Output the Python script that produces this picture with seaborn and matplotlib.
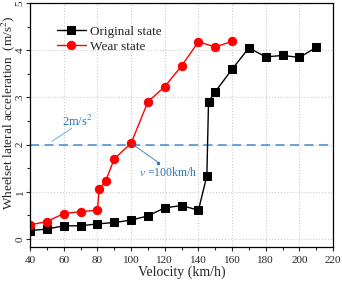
import numpy as np
import matplotlib
matplotlib.use("Agg")
import matplotlib.pyplot as plt
import seaborn as sns
import pandas as pd
from matplotlib.ticker import MultipleLocator

sns.set_style("ticks")
plt.rcParams['font.family'] = ['Liberation Serif', 'DejaVu Serif']
plt.rcParams['mathtext.fontset'] = 'stix'

# data
v_orig = [40, 50, 60, 70, 80, 90, 100, 110, 120, 130, 140, 145, 146, 150, 160, 170, 180, 190, 200, 210]
a_orig = [0.18, 0.21, 0.28, 0.28, 0.32, 0.35, 0.40, 0.49, 0.66, 0.71, 0.61, 1.34, 2.91, 3.12, 3.60,
          4.05, 3.86, 3.89, 3.85, 4.06]
v_wear = [40, 50, 60, 70, 80, 81, 85, 90, 100, 110, 120, 130, 140, 150, 160]
a_wear = [0.30, 0.37, 0.54, 0.58, 0.61, 1.05, 1.24, 1.70, 2.03, 2.91, 3.23, 3.67, 4.18, 4.07, 4.19]
limit = 2.0

df_o = pd.DataFrame({"v": v_orig, "a": a_orig})
df_w = pd.DataFrame({"v": v_wear, "a": a_wear})

fig = plt.figure(figsize=(3.42, 2.82), dpi=100)
ax = fig.add_axes([0.088, 0.124, 0.886, 0.865])

sns.lineplot(data=df_o, x="v", y="a", ax=ax, color="black", marker="s", markersize=5.5,
             markeredgecolor="black", linewidth=1.0, label="Original state")
sns.lineplot(data=df_w, x="v", y="a", ax=ax, color="#ff0000", marker="o", markersize=6,
             markeredgecolor="#ff0000", linewidth=1.0, label="Wear state")
ax.axhline(limit, color="#5b9bd5", linestyle=(0, (5, 3)), linewidth=1.3, zorder=1)

ax.plot([53, 64.8], [2.07, 2.35], color="#5b9bd5", linewidth=0.6)
ax.text(68, 2.5, "2m/s$^2$", color="#2e75b6", fontsize=9, ha="center", va="center")
ax.plot([100.4, 116.2], [2.02, 1.62], color="#2e75b6", linewidth=0.6)
ax.plot([116.2], [1.62], marker="o", markersize=1.5, color="#2e75b6")
ax.text(104.5, 1.42, "$v$ =100km/h", color="#2e75b6", fontsize=8.5, ha="left", va="center")

ax.set_xlim(40, 220)
ax.set_ylim(-0.17, 5)
ax.xaxis.set_major_locator(MultipleLocator(20))
ax.xaxis.set_minor_locator(MultipleLocator(10))
ax.yaxis.set_major_locator(MultipleLocator(1))
ax.yaxis.set_minor_locator(MultipleLocator(0.5))
ax.grid(True, which="major", color="#cccccc", linestyle=":", linewidth=0.8)
ax.tick_params(labelsize=8, length=3, width=0.8)
ax.tick_params(axis="y", pad=1)
for lbl in ax.get_yticklabels():
    lbl.set_rotation(90)
    lbl.set_va("center")
ax.tick_params(which="minor", length=2, width=0.8)
for s in ax.spines.values():
    s.set_visible(True)
    s.set_color("black")
    s.set_linewidth(0.9)

ax.set_xlabel("Velocity (km/h)", fontsize=10, labelpad=0)
ax.set_ylabel("Wheelset lateral acceleration  (m/s$^2$)", fontsize=9.5)
ax.yaxis.set_label_coords(-0.044, 0.55)

ax.legend(loc="upper left", bbox_to_anchor=(0.07, 0.93), frameon=False, fontsize=9.5,
          handlelength=2.2, handletextpad=0.3, labelspacing=0.2, borderaxespad=0)

fig.savefig("out.png", dpi=100)
